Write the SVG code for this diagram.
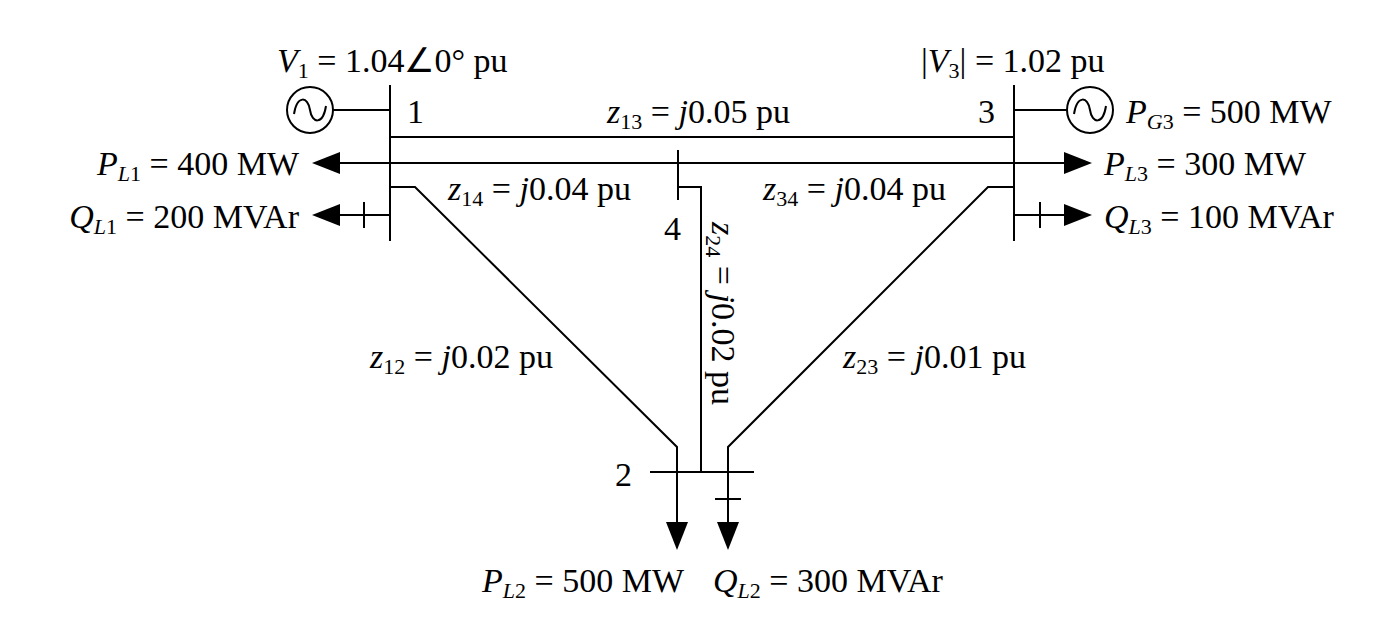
<svg xmlns="http://www.w3.org/2000/svg" width="1384" height="639" viewBox="0 0 1384 639">
<style>
.l{stroke:#000;stroke-width:2;fill:none}
text{font-family:"Liberation Serif",serif;font-size:34px;fill:#000}
.i{font-style:italic}
.s{font-size:22px}
</style>
<rect width="1384" height="639" fill="#fff"/>
<g id="connectors">
<line class="l" x1="390" y1="137" x2="1014" y2="137"/>
<line class="l" x1="336" y1="163" x2="1068" y2="163"/>
<path d="M312,163 L340,152 L340,174Z"/>
<path d="M1092,163 L1064,152 L1064,174Z"/>
<polyline class="l" points="390,187 415,187 677,447 677,526"/>
<path d="M677,550 L666,522 L688,522Z"/>
<polyline class="l" points="1014,187 988,187 728,447 728,526"/>
<path d="M728,550 L717,522 L739,522Z"/>
<line class="l" x1="715" y1="499" x2="741" y2="499"/>
<polyline class="l" points="678,187 701,187 701,472"/>
<line class="l" x1="390" y1="215" x2="336" y2="215"/>
<line class="l" x1="364" y1="202" x2="364" y2="228"/>
<path d="M312,215 L340,204 L340,226Z"/>
<line class="l" x1="1014" y1="215" x2="1068" y2="215"/>
<line class="l" x1="1040" y1="202" x2="1040" y2="228"/>
<path d="M1092,215 L1064,204 L1064,226Z"/>
<line class="l" x1="333" y1="110" x2="390" y2="110"/>
<line class="l" x1="1014" y1="110" x2="1067" y2="110"/>
</g>
<g id="bus1"><line class="l" x1="390" y1="85" x2="390" y2="241"/><text x="407" y="123">1</text></g>
<g id="bus3"><line class="l" x1="1014" y1="85" x2="1014" y2="241"/><text x="978" y="123">3</text></g>
<g id="bus4"><line class="l" x1="678" y1="150" x2="678" y2="200"/><text x="664" y="240">4</text></g>
<g id="bus2"><line class="l" x1="650" y1="472" x2="754" y2="472"/><text x="615" y="486">2</text></g>
<g id="gen1"><circle class="l" cx="310" cy="110" r="23"/><path class="l" d="M294,114 C297,95 308,96 310,110 C312,124 323,125 326,106"/></g>
<g id="gen3"><circle class="l" cx="1090" cy="110" r="23"/><path class="l" d="M1074,114 C1077,95 1088,96 1090,110 C1092,124 1103,125 1106,106"/></g>
<g id="labels">
<text x="277" y="72"><tspan class="i">V</tspan><tspan class="s" dy="6">1</tspan><tspan dy="-6"> = 1.04∠0° pu</tspan></text>
<text x="921" y="72">|<tspan class="i">V</tspan><tspan class="s" dy="6">3</tspan><tspan dy="-6">| = 1.02 pu</tspan></text>
<text x="607" y="123"><tspan class="i">z</tspan><tspan class="s" dy="6">13</tspan><tspan dy="-6"> = </tspan><tspan class="i">j</tspan>0.05 pu</text>
<text x="1126" y="123"><tspan class="i">P</tspan><tspan class="s i" dy="6">G</tspan><tspan class="s">3</tspan><tspan dy="-6"> = 500 MW</tspan></text>
<text x="299" y="175" text-anchor="end"><tspan class="i">P</tspan><tspan class="s i" dy="6">L</tspan><tspan class="s">1</tspan><tspan dy="-6"> = 400 MW</tspan></text>
<text x="1104" y="175"><tspan class="i">P</tspan><tspan class="s i" dy="6">L</tspan><tspan class="s">3</tspan><tspan dy="-6"> = 300 MW</tspan></text>
<text x="448" y="200"><tspan class="i">z</tspan><tspan class="s" dy="6">14</tspan><tspan dy="-6"> = </tspan><tspan class="i">j</tspan>0.04 pu</text>
<text x="763" y="200"><tspan class="i">z</tspan><tspan class="s" dy="6">34</tspan><tspan dy="-6"> = </tspan><tspan class="i">j</tspan>0.04 pu</text>
<text x="299" y="228" text-anchor="end"><tspan class="i">Q</tspan><tspan class="s i" dy="6">L</tspan><tspan class="s">1</tspan><tspan dy="-6"> = 200 MVAr</tspan></text>
<text x="1104" y="228"><tspan class="i">Q</tspan><tspan class="s i" dy="6">L</tspan><tspan class="s">3</tspan><tspan dy="-6"> = 100 MVAr</tspan></text>
<text transform="translate(712,222) rotate(90)"><tspan class="i">z</tspan><tspan class="s" dy="6">24</tspan><tspan dy="-6"> = </tspan><tspan class="i">j</tspan>0.02 pu</text>
<text x="370" y="368"><tspan class="i">z</tspan><tspan class="s" dy="6">12</tspan><tspan dy="-6"> = </tspan><tspan class="i">j</tspan>0.02 pu</text>
<text x="843" y="368"><tspan class="i">z</tspan><tspan class="s" dy="6">23</tspan><tspan dy="-6"> = </tspan><tspan class="i">j</tspan>0.01 pu</text>
<text x="482" y="592"><tspan class="i">P</tspan><tspan class="s i" dy="6">L</tspan><tspan class="s">2</tspan><tspan dy="-6"> = 500 MW</tspan></text>
<text x="713" y="592"><tspan class="i">Q</tspan><tspan class="s i" dy="6">L</tspan><tspan class="s">2</tspan><tspan dy="-6"> = 300 MVAr</tspan></text>
</g>
</svg>
